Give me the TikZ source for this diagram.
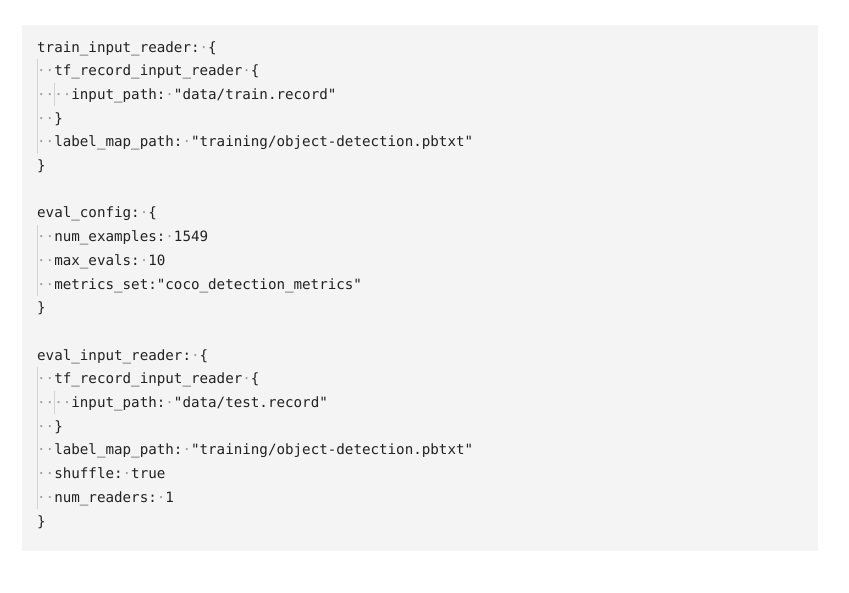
\documentclass[tikz,border=0pt]{standalone}
\usepackage{fontspec}
\setmonofont{DejaVu Sans Mono}
\definecolor{bgc}{HTML}{F4F4F4}
\definecolor{txt}{HTML}{222222}
\definecolor{dotc}{HTML}{A0A0A0}
\definecolor{guide}{HTML}{D2D2D2}
\newcommand{\ws}{\textcolor{dotc}{·}}
\begin{document}
\begin{tikzpicture}[x=1pt,y=-1pt,
  codeline/.style={anchor=base west,inner sep=0pt,font=\ttfamily\fontsize{14.2}{16}\selectfont,text=txt},
  guideline/.style={draw=guide,line width=0.8pt}]
\useasboundingbox (0,0) rectangle (849,592);
\fill[bgc] (22,25) rectangle (818,551);
\def\lh{23.7}
\def\cw{8.55}
\foreach \i/\t in {
 1/{train\_input\_reader:\ws\{},
 2/{\ws\ws tf\_record\_input\_reader\ws\{},
 3/{\ws\ws\ws\ws input\_path:\ws"data/train.record"},
 4/{\ws\ws\}},
 5/{\ws\ws label\_map\_path:\ws"training/object-detection.pbtxt"},
 6/{\}},
 8/{eval\_config:\ws\{},
 9/{\ws\ws num\_examples:\ws 1549},
 10/{\ws\ws max\_evals:\ws 10},
 11/{\ws\ws metrics\_set:"coco\_detection\_metrics"},
 12/{\}},
 14/{eval\_input\_reader:\ws\{},
 15/{\ws\ws tf\_record\_input\_reader\ws\{},
 16/{\ws\ws\ws\ws input\_path:\ws"data/test.record"},
 17/{\ws\ws\}},
 18/{\ws\ws label\_map\_path:\ws"training/object-detection.pbtxt"},
 19/{\ws\ws shuffle:\ws true},
 20/{\ws\ws num\_readers:\ws 1},
 21/{\}}}
 {\node[codeline] (l\i) at (37,{47+(\i-1)*\lh+5}) {\t};}
\draw[guideline] (37.5,{47+0.5*\lh}) -- (37.5,{47+4.5*\lh});
\draw[guideline] (54.5,{47+1.5*\lh}) -- (54.5,{47+2.5*\lh});
\draw[guideline] (37.5,{47+7.5*\lh}) -- (37.5,{47+10.5*\lh});
\draw[guideline] (37.5,{47+13.5*\lh}) -- (37.5,{47+19.5*\lh});
\draw[guideline] (54.5,{47+14.5*\lh}) -- (54.5,{47+15.5*\lh});
\end{tikzpicture}
\end{document}
